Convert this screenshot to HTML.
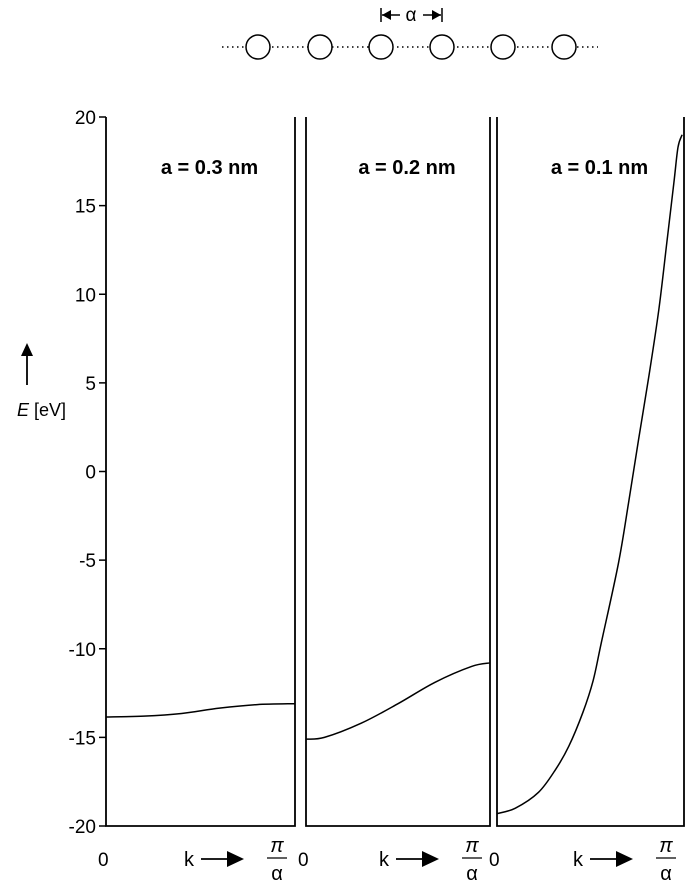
<!DOCTYPE html>
<html><head><meta charset="utf-8"><style>
body{margin:0;background:#fff}
svg{display:block;font-family:"Liberation Sans",sans-serif}
</style></head><body>
<svg id="c" width="685" height="885">
<g>
<line x1="222" y1="47" x2="598" y2="47" stroke="#000" stroke-width="1.5" stroke-dasharray="1.5,3.5"/>
<g id="atoms"></g>
<line x1="381" y1="8" x2="381" y2="22" stroke="#000" stroke-width="1.5"/>
<line x1="442" y1="8" x2="442" y2="22" stroke="#000" stroke-width="1.5"/>
<line x1="382" y1="15" x2="400" y2="15" stroke="#000" stroke-width="1.5"/>
<line x1="423" y1="15" x2="441" y2="15" stroke="#000" stroke-width="1.5"/>
<polygon points="382,15 391,10 391,20" fill="#000"/>
<polygon points="441,15 432,10 432,20" fill="#000"/>
<text x="411" y="21" font-size="19" text-anchor="middle">α</text>
</g>
<g id="yaxis"></g>
<g>
<line x1="27" y1="385" x2="27" y2="352" stroke="#000" stroke-width="1.8"/>
<polygon points="27,343 21,356 33,356" fill="#000"/>
<text x="17" y="416" font-size="18"><tspan font-style="italic">E</tspan> [eV]</text>
</g>
<g id="panels"></g>
</svg>
<script>
const yTicks=[20,15,10,5,0,-5,-10,-15,-20];
const panelTitles=["a = 0.3 nm","a = 0.2 nm","a = 0.1 nm"];
const k1=[0,0.2,0.4,0.6,0.8,1];
const e1=[-13.85,-13.8,-13.65,-13.35,-13.15,-13.1];
const k2=[0,0.1,0.3,0.5,0.7,0.9,1];
const e2=[-15.1,-15.0,-14.2,-13.1,-11.9,-11.0,-10.8];
const k3=[0,0.097,0.222,0.314,0.384,0.459,0.514,0.557,0.649,0.703,0.757,0.811,0.865,0.908,0.946,0.968,0.99];
const e3=[-19.3,-19.0,-18.1,-16.8,-15.5,-13.6,-11.8,-9.7,-5.2,-1.8,1.8,5.3,9.1,12.9,16.3,18.3,19.0];
const series=[[k1,e1],[k2,e2],[k3,e3]];
const NS="http://www.w3.org/2000/svg";
const Y=e=>826-(e+20)*709/40;
const panels=[[106,295],[306,490],[497,684]];
function mk(t,a,p){const el=document.createElementNS(NS,t);for(const k in a)el.setAttribute(k,a[k]);p.appendChild(el);return el;}
const atoms=document.getElementById('atoms');
[258,320,381,442,503,564].forEach(x=>{
const c=mk('circle',{cx:x,cy:47,r:12,fill:'#fff',stroke:'#000','stroke-width':1.5},atoms);


});
const ya=document.getElementById('yaxis');
yTicks.forEach(v=>{
const l=mk('line',{x1:99,x2:106,y1:Y(v),y2:Y(v),stroke:'#000','stroke-width':1.5},ya);


const t=mk('text',{x:96,y:Y(v)+7,'font-size':19,'text-anchor':'end'},ya);
t.textContent=v;


});
const pg=document.getElementById('panels');
function spline(pts){let d=`M${pts[0][0]},${pts[0][1]}`;for(let i=0;i<pts.length-1;i++){const p0=pts[Math.max(0,i-1)],p1=pts[i],p2=pts[i+1],p3=pts[Math.min(pts.length-1,i+2)];
d+=` C${p1[0]+(p2[0]-p0[0])/6},${p1[1]+(p2[1]-p0[1])/6} ${p2[0]-(p3[0]-p1[0])/6},${p2[1]-(p3[1]-p1[1])/6} ${p2[0]},${p2[1]}`;}return d;}
panels.forEach(([x0,x1],i)=>{
const g=mk('g',{},pg);


mk('path',{d:`M${x0},117 V826 H${x1} V117`,fill:'none',stroke:'#000','stroke-width':1.8},g);
const t=mk('text',{x:(x0+x1)/2+9,y:174,'font-size':20,'font-weight':'bold','text-anchor':'middle'},g);
t.textContent=panelTitles[i];


const [ks,es]=series[i];
const pts=ks.map((k,j)=>[x0+k*(x1-x0),Y(es[j])]);
const c=mk('path',{d:spline(pts),fill:'none',stroke:'#000','stroke-width':1.5},g);


const z=mk('text',{x:x0-8,y:866,'font-size':19},g);z.textContent='0';


const kx=x1-111;
const kt=mk('text',{x:kx,y:866,'font-size':20},g);kt.textContent='k';


mk('line',{x1:kx+17,x2:kx+45,y1:859,y2:859,stroke:'#000','stroke-width':1.8},g);
mk('polygon',{points:`${kx+60},859 ${kx+43},851 ${kx+43},867`,fill:'#000'},g);
const fx=x1-18;
const p=mk('text',{x:fx,y:852,'font-size':20,'text-anchor':'middle','font-style':'italic'},g);p.textContent='π';


mk('line',{x1:fx-10,x2:fx+10,y1:858,y2:858,stroke:'#000','stroke-width':1.3},g);
const a=mk('text',{x:fx,y:880,'font-size':20,'text-anchor':'middle'},g);a.textContent='α';


});
</script>
</body></html>
